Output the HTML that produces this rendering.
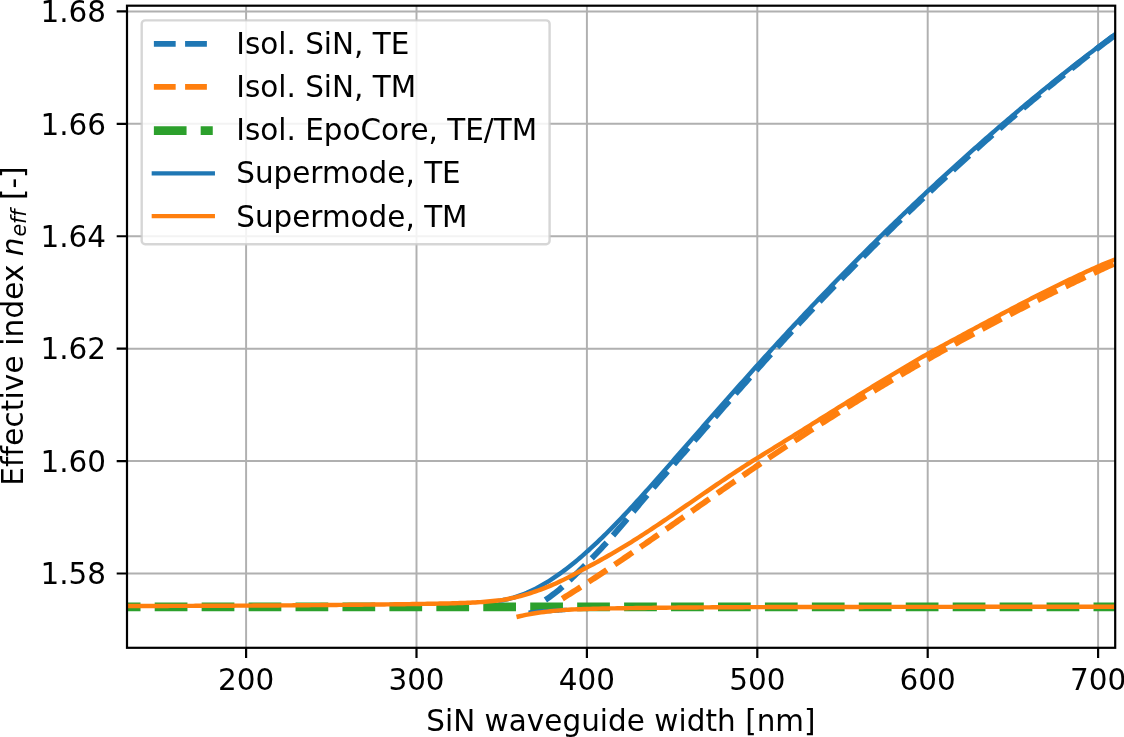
<!DOCTYPE html><html><head><meta charset="utf-8"><title>Effective index vs SiN waveguide width</title>
<style>html,body{margin:0;padding:0;background:#fff}body{width:1124px;height:737px;overflow:hidden}svg{display:block}text{font-variant-ligatures:none;font-kerning:normal;font-family:"DejaVu Sans","Liberation Sans",sans-serif;fill:#000}</style></head><body>
<svg width="1124" height="737" viewBox="0 0 1124 737">
<rect width="1124" height="737" fill="#fff"/>
<defs><clipPath id="ax"><rect x="127.00" y="5.70" width="988.20" height="642.10"/></clipPath></defs>
<path d="M246.10 5.70 V647.80 M416.50 5.70 V647.80 M586.90 5.70 V647.80 M757.30 5.70 V647.80 M927.70 5.70 V647.80 M1098.10 5.70 V647.80 M127.00 573.50 H1115.20 M127.00 461.08 H1115.20 M127.00 348.66 H1115.20 M127.00 236.24 H1115.20 M127.00 123.82 H1115.20 M127.00 11.40 H1115.20" stroke="#b0b0b0" stroke-width="1.95" fill="none"/>
<g clip-path="url(#ax)" fill="none" stroke-linejoin="round">
<path d="M545.40 600.00 L547.33 598.68 L549.25 597.32 L551.18 595.92 L553.10 594.48 L555.03 593.00 L556.95 591.49 L558.88 589.93 L560.80 588.33 L562.73 586.67 L564.65 584.97 L566.58 583.21 L568.50 581.42 L570.43 579.59 L572.35 577.73 L574.28 575.85 L576.20 573.96 L578.13 572.05 L580.05 570.13 L581.98 568.22 L583.90 566.31 L585.83 564.38 L587.75 562.44 L589.68 560.49 L591.60 558.51 L593.53 556.53 L595.45 554.52 L597.38 552.50 L599.30 550.46 L601.23 548.41 L603.15 546.34 L605.08 544.25 L607.00 542.13 L608.93 540.00 L610.85 537.85 L612.78 535.67 L614.70 533.48 L616.63 531.27 L618.55 529.05 L620.48 526.81 L622.40 524.56 L624.33 522.30 L626.25 520.02 L628.18 517.74 L630.10 515.46 L632.03 513.16 L633.95 510.87 L635.88 508.57 L637.80 506.26 L639.73 503.96 L641.65 501.66 L643.58 499.37 L645.50 497.07 L647.43 494.79 L649.35 492.51 L651.28 490.24 L653.20 487.98 L655.13 485.73 L657.05 483.49 L658.98 481.27 L660.90 479.06 L662.83 476.86 L664.75 474.68 L666.68 472.50 L668.60 470.32 L670.53 468.13 L672.45 465.94 L674.38 463.74 L676.30 461.54 L678.23 459.33 L680.15 457.12 L682.08 454.91 L684.00 452.70 L685.93 450.49 L687.85 448.28 L689.78 446.07 L691.70 443.86 L693.63 441.65 L695.55 439.44 L697.48 437.24 L699.40 435.03 L701.33 432.82 L703.25 430.62 L705.18 428.41 L707.10 426.20 L709.03 424.00 L710.95 421.80 L712.88 419.60 L714.80 417.40 L716.73 415.20 L718.65 413.00 L720.58 410.80 L722.50 408.61 L724.43 406.42 L726.35 404.23 L728.28 402.04 L730.20 399.85 L732.13 397.66 L734.05 395.48 L735.98 393.30 L737.90 391.12 L739.83 388.94 L741.75 386.77 L743.68 384.60 L745.60 382.43 L747.53 380.26 L749.45 378.10 L751.38 375.94 L753.30 373.78 L755.23 371.62 L757.15 369.47 L759.08 367.32 L761.00 365.18 L762.93 363.04 L764.85 360.90 L766.78 358.76 L768.70 356.63 L770.63 354.50 L772.55 352.38 L774.48 350.26 L776.40 348.14 L778.33 346.03 L780.25 343.92 L782.18 341.82 L784.10 339.72 L786.03 337.62 L787.95 335.53 L789.88 333.44 L791.80 331.35 L793.73 329.27 L795.65 327.19 L797.58 325.12 L799.50 323.05 L801.43 320.98 L803.35 318.92 L805.28 316.87 L807.20 314.81 L809.13 312.76 L811.05 310.72 L812.98 308.67 L814.90 306.63 L816.83 304.60 L818.75 302.57 L820.68 300.54 L822.60 298.52 L824.53 296.50 L826.45 294.49 L828.38 292.48 L830.30 290.47 L832.23 288.47 L834.15 286.47 L836.08 284.47 L838.00 282.48 L839.93 280.49 L841.85 278.51 L843.78 276.53 L845.70 274.55 L847.63 272.58 L849.55 270.61 L851.48 268.64 L853.40 266.68 L855.33 264.73 L857.25 262.77 L859.18 260.82 L861.10 258.88 L863.03 256.94 L864.95 255.00 L866.88 253.07 L868.80 251.14 L870.73 249.21 L872.65 247.29 L874.58 245.37 L876.50 243.46 L878.43 241.54 L880.35 239.64 L882.28 237.73 L884.20 235.84 L886.13 233.94 L888.05 232.05 L889.98 230.16 L891.90 228.28 L893.83 226.40 L895.75 224.52 L897.68 222.65 L899.60 220.78 L901.53 218.92 L903.45 217.05 L905.38 215.20 L907.30 213.34 L909.23 211.49 L911.15 209.65 L913.08 207.81 L915.00 205.97 L916.93 204.14 L918.85 202.31 L920.78 200.48 L922.70 198.66 L924.63 196.83 L926.55 195.02 L928.48 193.20 L930.40 191.39 L932.33 189.58 L934.25 187.77 L936.18 185.97 L938.10 184.17 L940.03 182.38 L941.95 180.58 L943.88 178.79 L945.80 177.01 L947.73 175.23 L949.65 173.45 L951.58 171.68 L953.50 169.91 L955.43 168.14 L957.35 166.38 L959.28 164.62 L961.20 162.87 L963.13 161.12 L965.05 159.37 L966.98 157.63 L968.90 155.89 L970.83 154.15 L972.75 152.42 L974.68 150.69 L976.60 148.97 L978.53 147.25 L980.45 145.53 L982.38 143.82 L984.30 142.11 L986.23 140.40 L988.15 138.70 L990.08 137.00 L992.00 135.31 L993.93 133.62 L995.85 131.93 L997.78 130.25 L999.70 128.57 L1001.63 126.90 L1003.55 125.22 L1005.48 123.56 L1007.40 121.89 L1009.33 120.23 L1011.25 118.58 L1013.18 116.92 L1015.10 115.28 L1017.03 113.63 L1018.95 111.99 L1020.88 110.35 L1022.80 108.72 L1024.73 107.09 L1026.65 105.46 L1028.58 103.84 L1030.50 102.23 L1032.43 100.61 L1034.35 99.00 L1036.28 97.40 L1038.20 95.79 L1040.13 94.20 L1042.05 92.60 L1043.98 91.01 L1045.90 89.42 L1047.83 87.84 L1049.75 86.26 L1051.68 84.69 L1053.60 83.12 L1055.53 81.55 L1057.45 79.99 L1059.38 78.43 L1061.30 76.88 L1063.23 75.33 L1065.15 73.78 L1067.08 72.24 L1069.00 70.70 L1070.93 69.17 L1072.85 67.64 L1074.78 66.11 L1076.70 64.59 L1078.63 63.07 L1080.55 61.56 L1082.48 60.05 L1084.40 58.54 L1086.33 57.04 L1088.25 55.54 L1090.18 54.05 L1092.10 52.56 L1094.03 51.08 L1095.95 49.60 L1097.88 48.12 L1099.80 46.65 L1101.73 45.18 L1103.65 43.72 L1105.58 42.26 L1107.50 40.80 L1109.43 39.35 L1111.35 37.90 L1113.28 36.46 L1115.20 35.02 L1117.13 33.59 L1119.05 32.16 L1120.98 30.74" stroke="#1f77b4" stroke-width="5.89" stroke-dasharray="21.79 9.42"/>
<path d="M562.30 598.65 L564.18 597.48 L566.06 596.31 L567.95 595.12 L569.83 593.94 L571.71 592.75 L573.59 591.56 L575.47 590.36 L577.36 589.16 L579.24 587.95 L581.12 586.74 L583.00 585.53 L584.88 584.32 L586.77 583.10 L588.65 581.87 L590.53 580.64 L592.41 579.41 L594.29 578.18 L596.17 576.94 L598.06 575.70 L599.94 574.46 L601.82 573.21 L603.70 571.96 L605.58 570.71 L607.47 569.45 L609.35 568.19 L611.23 566.93 L613.11 565.67 L614.99 564.40 L616.88 563.13 L618.76 561.86 L620.64 560.59 L622.52 559.31 L624.40 558.03 L626.29 556.75 L628.17 555.46 L630.05 554.18 L631.93 552.89 L633.81 551.60 L635.70 550.31 L637.58 549.01 L639.46 547.72 L641.34 546.42 L643.22 545.12 L645.11 543.82 L646.99 542.52 L648.87 541.22 L650.75 539.91 L652.63 538.60 L654.52 537.30 L656.40 535.99 L658.28 534.68 L660.16 533.37 L662.04 532.05 L663.92 530.74 L665.81 529.43 L667.69 528.11 L669.57 526.80 L671.45 525.48 L673.33 524.16 L675.22 522.84 L677.10 521.53 L678.98 520.21 L680.86 518.89 L682.74 517.57 L684.63 516.25 L686.51 514.93 L688.39 513.61 L690.27 512.29 L692.15 510.97 L694.04 509.65 L695.92 508.33 L697.80 507.01 L699.68 505.69 L701.56 504.37 L703.45 503.05 L705.33 501.73 L707.21 500.41 L709.09 499.10 L710.97 497.78 L712.86 496.46 L714.74 495.15 L716.62 493.83 L718.50 492.52 L720.38 491.21 L722.26 489.90 L724.15 488.59 L726.03 487.28 L727.91 485.97 L729.79 484.66 L731.67 483.36 L733.56 482.05 L735.44 480.75 L737.32 479.45 L739.20 478.15 L741.08 476.86 L742.97 475.56 L744.85 474.27 L746.73 472.97 L748.61 471.68 L750.49 470.40 L752.38 469.11 L754.26 467.83 L756.14 466.54 L758.02 465.26 L759.90 463.99 L761.79 462.71 L763.67 461.44 L765.55 460.17 L767.43 458.90 L769.31 457.64 L771.20 456.37 L773.08 455.11 L774.96 453.86 L776.84 452.60 L778.72 451.34 L780.61 450.09 L782.49 448.84 L784.37 447.60 L786.25 446.35 L788.13 445.11 L790.01 443.87 L791.90 442.63 L793.78 441.40 L795.66 440.16 L797.54 438.93 L799.42 437.70 L801.31 436.48 L803.19 435.25 L805.07 434.03 L806.95 432.81 L808.83 431.59 L810.72 430.38 L812.60 429.17 L814.48 427.96 L816.36 426.75 L818.24 425.54 L820.13 424.34 L822.01 423.14 L823.89 421.94 L825.77 420.74 L827.65 419.55 L829.54 418.36 L831.42 417.17 L833.30 415.98 L835.18 414.79 L837.06 413.61 L838.95 412.43 L840.83 411.25 L842.71 410.07 L844.59 408.90 L846.47 407.73 L848.35 406.56 L850.24 405.39 L852.12 404.23 L854.00 403.07 L855.88 401.90 L857.76 400.75 L859.65 399.59 L861.53 398.44 L863.41 397.29 L865.29 396.14 L867.17 394.99 L869.06 393.85 L870.94 392.70 L872.82 391.56 L874.70 390.42 L876.58 389.29 L878.47 388.16 L880.35 387.02 L882.23 385.90 L884.11 384.77 L885.99 383.65 L887.88 382.52 L889.76 381.40 L891.64 380.29 L893.52 379.17 L895.40 378.06 L897.29 376.95 L899.17 375.84 L901.05 374.73 L902.93 373.63 L904.81 372.52 L906.69 371.42 L908.58 370.33 L910.46 369.23 L912.34 368.14 L914.22 367.05 L916.10 365.96 L917.99 364.87 L919.87 363.79 L921.75 362.71 L923.63 361.63 L925.51 360.55 L927.40 359.47 L929.28 358.40 L931.16 357.33 L933.04 356.26 L934.92 355.20 L936.81 354.13 L938.69 353.07 L940.57 352.01 L942.45 350.95 L944.33 349.90 L946.22 348.84 L948.10 347.79 L949.98 346.74 L951.86 345.70 L953.74 344.65 L955.63 343.61 L957.51 342.57 L959.39 341.53 L961.27 340.50 L963.15 339.46 L965.04 338.43 L966.92 337.41 L968.80 336.38 L970.68 335.35 L972.56 334.33 L974.44 333.31 L976.33 332.29 L978.21 331.28 L980.09 330.26 L981.97 329.25 L983.85 328.24 L985.74 327.24 L987.62 326.23 L989.50 325.23 L991.38 324.23 L993.26 323.23 L995.15 322.23 L997.03 321.24 L998.91 320.25 L1000.79 319.26 L1002.67 318.27 L1004.56 317.29 L1006.44 316.30 L1008.32 315.32 L1010.20 314.34 L1012.08 313.37 L1013.97 312.39 L1015.85 311.42 L1017.73 310.45 L1019.61 309.48 L1021.49 308.52 L1023.38 307.55 L1025.26 306.59 L1027.14 305.63 L1029.02 304.68 L1030.90 303.72 L1032.78 302.77 L1034.67 301.82 L1036.55 300.87 L1038.43 299.93 L1040.31 298.98 L1042.19 298.04 L1044.08 297.10 L1045.96 296.16 L1047.84 295.23 L1049.72 294.29 L1051.60 293.36 L1053.49 292.43 L1055.37 291.51 L1057.25 290.58 L1059.13 289.66 L1061.01 288.74 L1062.90 287.82 L1064.78 286.90 L1066.66 285.99 L1068.54 285.08 L1070.42 284.17 L1072.31 283.26 L1074.19 282.36 L1076.07 281.45 L1077.95 280.55 L1079.83 279.65 L1081.72 278.76 L1083.60 277.86 L1085.48 276.97 L1087.36 276.08 L1089.24 275.19 L1091.13 274.30 L1093.01 273.42 L1094.89 272.54 L1096.77 271.66 L1098.65 270.78 L1100.53 269.91 L1102.42 269.03 L1104.30 268.16 L1106.18 267.29 L1108.06 266.42 L1109.94 265.56 L1111.83 264.70 L1113.71 263.84 L1115.59 262.98 L1117.47 262.12 L1119.35 261.27 L1121.24 260.41 L1123.12 259.56 L1125.00 258.72" stroke="#ff7f0e" stroke-width="5.89" stroke-dasharray="21.79 9.42"/>
<path d="M107.76 606.85 H1130.00" stroke="#2ca02c" stroke-width="8.83" stroke-dasharray="32.75 14.19" stroke-dashoffset="0.00"/>
<path d="M498.11 600.93 L500.32 600.59 L502.53 600.21 L504.73 599.78 L506.94 599.31 L509.15 598.79 L511.35 598.22 L513.56 597.60 L515.77 596.92 L517.98 596.20 L520.18 595.42 L522.39 594.59 L524.60 593.71 L526.81 592.79 L529.01 591.81 L531.22 590.79 L533.43 589.72 L535.64 588.61 L537.84 587.45 L540.05 586.24 L542.26 585.00 L544.46 583.71 L546.67 582.38 L548.88 581.01 L551.09 579.61 L553.29 578.16 L555.50 576.67 L557.71 575.15 L559.92 573.59 L562.12 571.99 L564.33 570.36 L566.54 568.69 L568.75 566.99 L570.95 565.25 L573.16 563.48 L575.37 561.68 L577.58 559.85 L579.78 557.99 L581.99 556.10 L584.20 554.17 L586.40 552.22 L588.61 550.25 L590.82 548.24 L593.03 546.21 L595.23 544.15 L597.44 542.07 L599.65 539.96 L601.86 537.83 L604.06 535.68 L606.27 533.50 L608.48 531.30 L610.69 529.09 L612.89 526.85 L615.10 524.59 L617.31 522.31 L619.52 520.02 L621.72 517.71 L623.93 515.38 L626.14 513.03 L628.34 510.67 L630.55 508.30 L632.76 505.91 L634.97 503.51 L637.17 501.09 L639.38 498.67 L641.59 496.23 L643.80 493.78 L646.00 491.33 L648.21 488.86 L650.42 486.39 L652.63 483.90 L654.83 481.41 L657.04 478.92 L659.25 476.42 L661.45 473.91 L663.66 471.40 L665.87 468.89 L668.08 466.38 L670.28 463.86 L672.49 461.34 L674.70 458.82 L676.91 456.30 L679.11 453.78 L681.32 451.26 L683.53 448.74 L685.74 446.22 L687.94 443.70 L690.15 441.18 L692.36 438.66 L694.57 436.14 L696.77 433.62 L698.98 431.11 L701.19 428.59 L703.39 426.07 L705.60 423.56 L707.81 421.05 L710.02 418.54 L712.22 416.03 L714.43 413.52 L716.64 411.01 L718.85 408.51 L721.05 406.00 L723.26 403.50 L725.47 401.00 L727.68 398.51 L729.88 396.01 L732.09 393.52 L734.30 391.04 L736.51 388.55 L738.71 386.07 L740.92 383.59 L743.13 381.12 L745.33 378.64 L747.54 376.18 L749.75 373.71 L751.96 371.25 L754.16 368.79 L756.37 366.34 L758.58 363.89 L760.79 361.45 L762.99 359.01 L765.20 356.58 L767.41 354.14 L769.62 351.72 L771.82 349.30 L774.03 346.88 L776.24 344.47 L778.44 342.07 L780.65 339.67 L782.86 337.27 L785.07 334.88 L787.27 332.50 L789.48 330.12 L791.69 327.75 L793.90 325.38 L796.10 323.01 L798.31 320.65 L800.52 318.30 L802.73 315.95 L804.93 313.61 L807.14 311.27 L809.35 308.93 L811.56 306.60 L813.76 304.28 L815.97 301.96 L818.18 299.65 L820.38 297.34 L822.59 295.04 L824.80 292.74 L827.01 290.45 L829.21 288.16 L831.42 285.88 L833.63 283.60 L835.84 281.33 L838.04 279.06 L840.25 276.79 L842.46 274.54 L844.67 272.28 L846.87 270.04 L849.08 267.79 L851.29 265.56 L853.49 263.32 L855.70 261.10 L857.91 258.88 L860.12 256.66 L862.32 254.45 L864.53 252.24 L866.74 250.04 L868.95 247.84 L871.15 245.65 L873.36 243.46 L875.57 241.28 L877.78 239.10 L879.98 236.93 L882.19 234.76 L884.40 232.60 L886.61 230.44 L888.81 228.29 L891.02 226.14 L893.23 224.00 L895.43 221.86 L897.64 219.73 L899.85 217.61 L902.06 215.48 L904.26 213.37 L906.47 211.26 L908.68 209.15 L910.89 207.05 L913.09 204.95 L915.30 202.86 L917.51 200.77 L919.72 198.69 L921.92 196.61 L924.13 194.54 L926.34 192.47 L928.55 190.41 L930.75 188.35 L932.96 186.30 L935.17 184.25 L937.37 182.21 L939.58 180.17 L941.79 178.14 L944.00 176.11 L946.20 174.09 L948.41 172.07 L950.62 170.06 L952.83 168.05 L955.03 166.05 L957.24 164.05 L959.45 162.06 L961.66 160.07 L963.86 158.09 L966.07 156.11 L968.28 154.14 L970.48 152.17 L972.69 150.21 L974.90 148.25 L977.11 146.30 L979.31 144.35 L981.52 142.40 L983.73 140.47 L985.94 138.53 L988.14 136.60 L990.35 134.68 L992.56 132.76 L994.77 130.85 L996.97 128.94 L999.18 127.03 L1001.39 125.13 L1003.60 123.24 L1005.80 121.35 L1008.01 119.47 L1010.22 117.59 L1012.42 115.71 L1014.63 113.84 L1016.84 111.98 L1019.05 110.12 L1021.25 108.26 L1023.46 106.41 L1025.67 104.57 L1027.88 102.73 L1030.08 100.90 L1032.29 99.07 L1034.50 97.24 L1036.71 95.42 L1038.91 93.61 L1041.12 91.80 L1043.33 90.00 L1045.54 88.20 L1047.74 86.40 L1049.95 84.62 L1052.16 82.83 L1054.36 81.05 L1056.57 79.28 L1058.78 77.51 L1060.99 75.75 L1063.19 73.99 L1065.40 72.24 L1067.61 70.50 L1069.82 68.75 L1072.02 67.02 L1074.23 65.29 L1076.44 63.56 L1078.65 61.84 L1080.85 60.13 L1083.06 58.42 L1085.27 56.72 L1087.47 55.02 L1089.68 53.33 L1091.89 51.64 L1094.10 49.96 L1096.30 48.28 L1098.51 46.61 L1100.72 44.94 L1102.93 43.28 L1105.13 41.63 L1107.34 39.98 L1109.55 38.34 L1111.76 36.70 L1113.96 35.06 L1116.17 33.44 L1118.38 31.82 L1120.59 30.20 L1122.79 28.59 L1125.00 26.99" stroke="#1f77b4" stroke-width="4.42"/>
<path d="M528.50 612.70 L528.69 612.68 L528.88 612.65 L529.08 612.63 L529.27 612.60 L529.46 612.58 L529.65 612.55 L529.84 612.53 L530.04 612.51 L530.23 612.48 L530.42 612.46 L530.61 612.43 L530.80 612.41 L531.00 612.39 L531.19 612.37 L531.38 612.34 L531.57 612.32 L531.76 612.30 L531.96 612.27 L532.15 612.25 L532.34 612.23 L532.53 612.21 L532.72 612.19 L532.92 612.16 L533.11 612.14 L533.30 612.12 L533.49 612.10 L533.68 612.08 L533.87 612.06 L534.07 612.04 L534.26 612.02 L534.45 611.99 L534.64 611.97 L534.83 611.95 L535.03 611.93 L535.22 611.92 L535.41 611.90 L535.60 611.88 L535.79 611.86 L535.99 611.84 L536.18 611.82 L536.37 611.80 L536.56 611.78 L536.75 611.77 L536.95 611.75 L537.14 611.73 L537.33 611.71 L537.52 611.70 L537.71 611.68 L537.91 611.66 L538.10 611.65 L538.29 611.63 L538.48 611.62 L538.67 611.60 L538.87 611.58 L539.06 611.57 L539.25 611.55 L539.44 611.54 L539.63 611.53 L539.83 611.51 L540.02 611.50 L540.21 611.49 L540.40 611.47 L540.59 611.46 L540.79 611.45 L540.98 611.43 L541.17 611.42 L541.36 611.41 L541.55 611.40 L541.75 611.39 L541.94 611.38 L542.13 611.36 L542.32 611.35 L542.51 611.34 L542.71 611.33 L542.90 611.32 L543.09 611.31 L543.28 611.30 L543.47 611.29 L543.66 611.28 L543.86 611.27 L544.05 611.26 L544.24 611.25 L544.43 611.24 L544.62 611.23 L544.82 611.22 L545.01 611.21 L545.20 611.20 L545.39 611.20 L545.58 611.19 L545.78 611.18 L545.97 611.17 L546.16 611.16 L546.35 611.15 L546.54 611.14 L546.74 611.13 L546.93 611.13 L547.12 611.12 L547.31 611.11 L547.50 611.10 L547.70 611.09 L547.89 611.08 L548.08 611.07 L548.27 611.06 L548.46 611.06 L548.66 611.05 L548.85 611.04 L549.04 611.03 L549.23 611.02 L549.42 611.01 L549.62 611.00 L549.81 610.99 L550.00 610.98 L550.19 610.97 L550.38 610.97 L550.58 610.96 L550.77 610.95 L550.96 610.94 L551.15 610.93 L551.34 610.92 L551.54 610.91 L551.73 610.90 L551.92 610.89 L552.11 610.88 L552.30 610.86 L552.49 610.85 L552.69 610.84 L552.88 610.83 L553.07 610.82 L553.26 610.81 L553.45 610.80 L553.65 610.78 L553.84 610.77 L554.03 610.76 L554.22 610.75 L554.41 610.74 L554.61 610.72 L554.80 610.71 L554.99 610.70 L555.18 610.69 L555.37 610.67 L555.57 610.66 L555.76 610.65 L555.95 610.64 L556.14 610.62 L556.33 610.61 L556.53 610.60 L556.72 610.58 L556.91 610.57 L557.10 610.56 L557.29 610.54 L557.49 610.53 L557.68 610.52 L557.87 610.50 L558.06 610.49 L558.25 610.47 L558.45 610.46 L558.64 610.45 L558.83 610.43 L559.02 610.42 L559.21 610.40 L559.41 610.39 L559.60 610.38 L559.79 610.36 L559.98 610.35 L560.17 610.33 L560.37 610.32 L560.56 610.30 L560.75 610.29 L560.94 610.27 L561.13 610.26 L561.33 610.24 L561.52 610.23 L561.71 610.21 L561.90 610.20 L562.09 610.18 L562.28 610.17 L562.48 610.15 L562.67 610.14 L562.86 610.12 L563.05 610.11 L563.24 610.09 L563.44 610.07 L563.63 610.06 L563.82 610.04 L564.01 610.03 L564.20 610.01 L564.40 610.00 L564.59 609.98 L564.78 609.96 L564.97 609.95 L565.16 609.93 L565.36 609.92 L565.55 609.90 L565.74 609.88 L565.93 609.87 L566.12 609.85 L566.32 609.83 L566.51 609.82 L566.70 609.80" stroke="#1f77b4" stroke-width="4.42"/>
<path d="M120.00 606.00 L122.52 606.00 L125.04 606.00 L127.56 606.00 L130.08 605.99 L132.59 605.99 L135.11 605.99 L137.63 605.99 L140.15 605.98 L142.67 605.98 L145.19 605.97 L147.71 605.97 L150.23 605.96 L152.74 605.96 L155.26 605.95 L157.78 605.95 L160.30 605.94 L162.82 605.94 L165.34 605.93 L167.86 605.92 L170.38 605.91 L172.89 605.91 L175.41 605.90 L177.93 605.89 L180.45 605.88 L182.97 605.88 L185.49 605.87 L188.01 605.86 L190.53 605.85 L193.05 605.84 L195.56 605.83 L198.08 605.82 L200.60 605.81 L203.12 605.80 L205.64 605.79 L208.16 605.78 L210.68 605.77 L213.20 605.76 L215.71 605.75 L218.23 605.74 L220.75 605.73 L223.27 605.72 L225.79 605.71 L228.31 605.70 L230.83 605.69 L233.35 605.67 L235.86 605.66 L238.38 605.65 L240.90 605.64 L243.42 605.63 L245.94 605.62 L248.46 605.61 L250.98 605.60 L253.50 605.58 L256.02 605.57 L258.53 605.56 L261.05 605.54 L263.57 605.53 L266.09 605.51 L268.61 605.50 L271.13 605.48 L273.65 605.47 L276.17 605.45 L278.68 605.43 L281.20 605.41 L283.72 605.39 L286.24 605.37 L288.76 605.36 L291.28 605.34 L293.80 605.32 L296.32 605.29 L298.83 605.27 L301.35 605.25 L303.87 605.23 L306.39 605.21 L308.91 605.19 L311.43 605.16 L313.95 605.14 L316.47 605.12 L318.98 605.10 L321.50 605.07 L324.02 605.05 L326.54 605.03 L329.06 605.00 L331.58 604.98 L334.10 604.96 L336.62 604.93 L339.14 604.91 L341.65 604.88 L344.17 604.86 L346.69 604.84 L349.21 604.81 L351.73 604.79 L354.25 604.76 L356.77 604.74 L359.29 604.71 L361.80 604.69 L364.32 604.66 L366.84 604.63 L369.36 604.61 L371.88 604.58 L374.40 604.55 L376.92 604.52 L379.44 604.49 L381.95 604.47 L384.47 604.44 L386.99 604.40 L389.51 604.37 L392.03 604.34 L394.55 604.31 L397.07 604.28 L399.59 604.24 L402.11 604.21 L404.62 604.17 L407.14 604.13 L409.66 604.10 L412.18 604.06 L414.70 604.02 L417.22 603.98 L419.74 603.94 L422.26 603.90 L424.77 603.86 L427.29 603.82 L429.81 603.77 L432.33 603.73 L434.85 603.68 L437.37 603.63 L439.89 603.58 L442.41 603.53 L444.92 603.47 L447.44 603.42 L449.96 603.35 L452.48 603.29 L455.00 603.22 L457.52 603.14 L460.04 603.07 L462.56 602.98 L465.08 602.90 L467.59 602.80 L470.11 602.69 L472.63 602.57 L475.15 602.43 L477.67 602.27 L480.19 602.11 L482.71 601.93 L485.23 601.73 L487.74 601.52 L490.26 601.30 L492.78 601.06 L495.30 600.81 L497.82 600.54 L500.34 600.26 L502.86 599.91 L505.38 599.47 L507.89 598.97 L510.41 598.43 L512.93 597.88 L515.45 597.31 L517.97 596.70 L520.49 596.05 L523.01 595.36 L525.53 594.64 L528.05 593.90 L530.56 593.10 L533.08 592.26 L535.60 591.38 L538.12 590.48 L540.64 589.57 L543.16 588.63 L545.68 587.66 L548.20 586.67 L550.71 585.64 L553.23 584.57 L555.75 583.46 L558.27 582.31 L560.79 581.11 L563.31 579.88 L565.83 578.64 L568.35 577.37 L570.86 576.05 L573.38 574.71 L575.90 573.35 L578.42 572.00 L580.94 570.66 L583.46 569.32 L585.98 567.99 L588.50 566.64 L591.02 565.29 L593.53 563.94 L596.05 562.57 L598.57 561.19 L601.09 559.79 L603.61 558.37 L606.13 556.95 L608.65 555.50 L611.17 554.05 L613.68 552.59 L616.20 551.11 L618.72 549.63 L621.24 548.13 L623.76 546.63 L626.28 545.10 L628.80 543.57 L631.32 542.01 L633.83 540.44 L636.35 538.86 L638.87 537.25 L641.39 535.64 L643.91 534.01 L646.43 532.38 L648.95 530.73 L651.47 529.07 L653.98 527.41 L656.50 525.73 L659.02 524.05 L661.54 522.36 L664.06 520.67 L666.58 518.97 L669.10 517.26 L671.62 515.55 L674.14 513.83 L676.65 512.11 L679.17 510.38 L681.69 508.65 L684.21 506.92 L686.73 505.19 L689.25 503.45 L691.77 501.72 L694.29 499.98 L696.80 498.25 L699.32 496.51 L701.84 494.78 L704.36 493.05 L706.88 491.32 L709.40 489.59 L711.92 487.87 L714.44 486.15 L716.95 484.43 L719.47 482.72 L721.99 481.02 L724.51 479.32 L727.03 477.62 L729.55 475.94 L732.07 474.26 L734.59 472.59 L737.11 470.93 L739.62 469.28 L742.14 467.64 L744.66 466.01 L747.18 464.38 L749.70 462.78 L752.22 461.18 L754.74 459.62 L757.26 458.09 L759.77 456.55 L762.29 455.00 L764.81 453.45 L767.33 451.90 L769.85 450.35 L772.37 448.79 L774.89 447.24 L777.41 445.68 L779.92 444.11 L782.44 442.55 L784.96 440.99 L787.48 439.42 L790.00 437.85 L792.52 436.29 L795.04 434.72 L797.56 433.15 L800.08 431.57 L802.59 430.00 L805.11 428.43 L807.63 426.86 L810.15 425.28 L812.67 423.71 L815.19 422.14 L817.71 420.56 L820.23 418.99 L822.74 417.42 L825.26 415.84 L827.78 414.27 L830.30 412.70 L832.82 411.13 L835.34 409.56 L837.86 407.99 L840.38 406.43 L842.89 404.86 L845.41 403.30 L847.93 401.73 L850.45 400.17 L852.97 398.62 L855.49 397.06 L858.01 395.50 L860.53 393.95 L863.05 392.40 L865.56 390.85 L868.08 389.31 L870.60 387.77 L873.12 386.23 L875.64 384.69 L878.16 383.16 L880.68 381.63 L883.20 380.10 L885.71 378.58 L888.23 377.06 L890.75 375.55 L893.27 374.04 L895.79 372.53 L898.31 371.03 L900.83 369.53 L903.35 368.03 L905.86 366.54 L908.38 365.06 L910.90 363.58 L913.42 362.10 L915.94 360.63 L918.46 359.17 L920.98 357.71 L923.50 356.26 L926.02 354.81 L928.53 353.37 L931.05 351.95 L933.57 350.56 L936.09 349.19 L938.61 347.84 L941.13 346.48 L943.65 345.12 L946.17 343.77 L948.68 342.41 L951.20 341.06 L953.72 339.70 L956.24 338.34 L958.76 336.98 L961.28 335.63 L963.80 334.27 L966.32 332.91 L968.83 331.56 L971.35 330.21 L973.87 328.85 L976.39 327.50 L978.91 326.15 L981.43 324.80 L983.95 323.45 L986.47 322.10 L988.98 320.76 L991.50 319.42 L994.02 318.08 L996.54 316.74 L999.06 315.40 L1001.58 314.07 L1004.10 312.74 L1006.62 311.41 L1009.14 310.09 L1011.65 308.77 L1014.17 307.45 L1016.69 306.14 L1019.21 304.83 L1021.73 303.52 L1024.25 302.22 L1026.77 300.92 L1029.29 299.63 L1031.80 298.34 L1034.32 297.05 L1036.84 295.77 L1039.36 294.49 L1041.88 293.22 L1044.40 291.96 L1046.92 290.70 L1049.44 289.44 L1051.95 288.19 L1054.47 286.95 L1056.99 285.71 L1059.51 284.48 L1062.03 283.25 L1064.55 282.03 L1067.07 280.82 L1069.59 279.61 L1072.11 278.41 L1074.62 277.22 L1077.14 276.03 L1079.66 274.85 L1082.18 273.68 L1084.70 272.52 L1087.22 271.36 L1089.74 270.21 L1092.26 269.07 L1094.77 267.94 L1097.29 266.81 L1099.81 265.71 L1102.33 264.63 L1104.85 263.59 L1107.37 262.57 L1109.89 261.55 L1112.41 260.54 L1114.92 259.51 L1117.44 258.48 L1119.96 257.45 L1122.48 256.42 L1125.00 255.40" stroke="#ff7f0e" stroke-width="4.42"/>
<path d="M516.50 617.00 L519.56 616.25 L522.62 615.55 L525.67 614.90 L528.73 614.32 L531.79 613.77 L534.85 613.27 L537.90 612.80 L540.96 612.37 L544.02 611.96 L547.08 611.59 L550.14 611.24 L553.19 610.92 L556.25 610.63 L559.31 610.35 L562.37 610.10 L565.42 609.88 L568.48 609.70 L571.54 609.55 L574.60 609.41 L577.66 609.29 L580.71 609.17 L583.77 609.07 L586.83 608.96 L589.89 608.86 L592.94 608.77 L596.00 608.69 L599.06 608.62 L602.12 608.56 L605.18 608.50 L608.23 608.44 L611.29 608.39 L614.35 608.34 L617.41 608.29 L620.46 608.25 L623.52 608.21 L626.58 608.17 L629.64 608.13 L632.70 608.09 L635.75 608.05 L638.81 608.01 L641.87 607.98 L644.93 607.94 L647.98 607.90 L651.04 607.87 L654.10 607.83 L657.16 607.80 L660.22 607.76 L663.27 607.73 L666.33 607.69 L669.39 607.66 L672.45 607.63 L675.51 607.60 L678.56 607.57 L681.62 607.54 L684.68 607.51 L687.74 607.49 L690.79 607.46 L693.85 607.44 L696.91 607.42 L699.97 607.40 L703.03 607.38 L706.08 607.36 L709.14 607.35 L712.20 607.33 L715.26 607.31 L718.31 607.30 L721.37 607.28 L724.43 607.27 L727.49 607.25 L730.55 607.23 L733.60 607.22 L736.66 607.21 L739.72 607.19 L742.78 607.18 L745.83 607.16 L748.89 607.15 L751.95 607.14 L755.01 607.13 L758.07 607.12 L761.12 607.10 L764.18 607.09 L767.24 607.08 L770.30 607.07 L773.35 607.06 L776.41 607.05 L779.47 607.05 L782.53 607.04 L785.59 607.03 L788.64 607.02 L791.70 607.02 L794.76 607.01 L797.82 607.00 L800.87 607.00 L803.93 606.99 L806.99 606.99 L810.05 606.98 L813.11 606.98 L816.16 606.97 L819.22 606.97 L822.28 606.96 L825.34 606.96 L828.39 606.96 L831.45 606.95 L834.51 606.95 L837.57 606.94 L840.63 606.94 L843.68 606.94 L846.74 606.93 L849.80 606.93 L852.86 606.93 L855.91 606.92 L858.97 606.92 L862.03 606.92 L865.09 606.91 L868.15 606.91 L871.20 606.91 L874.26 606.90 L877.32 606.90 L880.38 606.90 L883.43 606.89 L886.49 606.89 L889.55 606.89 L892.61 606.89 L895.67 606.88 L898.72 606.88 L901.78 606.88 L904.84 606.88 L907.90 606.87 L910.95 606.87 L914.01 606.87 L917.07 606.87 L920.13 606.86 L923.19 606.86 L926.24 606.86 L929.30 606.86 L932.36 606.85 L935.42 606.85 L938.47 606.85 L941.53 606.85 L944.59 606.84 L947.65 606.84 L950.71 606.84 L953.76 606.84 L956.82 606.83 L959.88 606.83 L962.94 606.83 L965.99 606.83 L969.05 606.83 L972.11 606.82 L975.17 606.82 L978.23 606.82 L981.28 606.82 L984.34 606.81 L987.40 606.81 L990.46 606.81 L993.52 606.81 L996.57 606.80 L999.63 606.80 L1002.69 606.80 L1005.75 606.79 L1008.80 606.79 L1011.86 606.79 L1014.92 606.79 L1017.98 606.78 L1021.04 606.78 L1024.09 606.78 L1027.15 606.78 L1030.21 606.77 L1033.27 606.77 L1036.32 606.77 L1039.38 606.77 L1042.44 606.76 L1045.50 606.76 L1048.56 606.76 L1051.61 606.76 L1054.67 606.75 L1057.73 606.75 L1060.79 606.75 L1063.84 606.75 L1066.90 606.74 L1069.96 606.74 L1073.02 606.74 L1076.08 606.74 L1079.13 606.73 L1082.19 606.73 L1085.25 606.73 L1088.31 606.73 L1091.36 606.72 L1094.42 606.72 L1097.48 606.72 L1100.54 606.72 L1103.60 606.72 L1106.65 606.71 L1109.71 606.71 L1112.77 606.71 L1115.83 606.71 L1118.88 606.70 L1121.94 606.70 L1125.00 606.70" stroke="#ff7f0e" stroke-width="4.42"/>
</g>
<path d="M246.10 647.80 v10.31 M416.50 647.80 v10.31 M586.90 647.80 v10.31 M757.30 647.80 v10.31 M927.70 647.80 v10.31 M1098.10 647.80 v10.31 M127.00 573.50 h-10.31 M127.00 461.08 h-10.31 M127.00 348.66 h-10.31 M127.00 236.24 h-10.31 M127.00 123.82 h-10.31 M127.00 11.40 h-10.31" stroke="#000" stroke-width="2.20" fill="none"/>
<rect x="127.00" y="5.70" width="988.20" height="642.10" fill="none" stroke="#000" stroke-width="2.20"/>
<text x="246.10" y="690.30" font-size="29.44" text-anchor="middle">200</text>
<text x="416.50" y="690.30" font-size="29.44" text-anchor="middle">300</text>
<text x="586.90" y="690.30" font-size="29.44" text-anchor="middle">400</text>
<text x="757.30" y="690.30" font-size="29.44" text-anchor="middle">500</text>
<text x="927.70" y="690.30" font-size="29.44" text-anchor="middle">600</text>
<text x="1098.10" y="690.30" font-size="29.44" text-anchor="middle">700</text>
<text x="106.00" y="584.20" font-size="29.44" text-anchor="end">1.58</text>
<text x="106.00" y="471.78" font-size="29.44" text-anchor="end">1.60</text>
<text x="106.00" y="359.36" font-size="29.44" text-anchor="end">1.62</text>
<text x="106.00" y="246.94" font-size="29.44" text-anchor="end">1.64</text>
<text x="106.00" y="134.52" font-size="29.44" text-anchor="end">1.66</text>
<text x="106.00" y="22.10" font-size="29.44" text-anchor="end">1.68</text>
<text x="620.90" y="730.90" font-size="29.44" text-anchor="middle" letter-spacing="0.045">SiN waveguide width [nm]</text>
<text transform="translate(23.40 485.70) rotate(-90)" font-size="29.44" font-style="normal" letter-spacing="0.17">Effective index</text>
<text transform="translate(23.40 256.20) rotate(-90)" font-size="29.44" font-style="italic">n</text>
<text transform="translate(26.10 236.60) rotate(-90)" font-size="20.61" font-style="italic">eff</text>
<text transform="translate(23.40 200.00) rotate(-90)" font-size="29.44" font-style="normal">[-]</text>
<rect x="141.70" y="20.40" width="407.90" height="223.90" rx="3.5" ry="3.5" fill="#fff" fill-opacity="0.85" stroke="#ccc" stroke-opacity="0.8" stroke-width="2.40"/>
<path d="M153.88 43.90 H212.76" stroke="#1f77b4" stroke-width="5.89" stroke-dasharray="21.79 9.42" fill="none"/>
<text x="236.21" y="53.80" font-size="29.44">Isol. SiN, TE</text>
<path d="M153.88 86.85 H212.76" stroke="#ff7f0e" stroke-width="5.89" stroke-dasharray="21.79 9.42" fill="none"/>
<text x="236.21" y="96.90" font-size="29.44">Isol. SiN, TM</text>
<path d="M153.88 130.60 H212.76" stroke="#2ca02c" stroke-width="8.83" stroke-dasharray="32.68 14.13" fill="none"/>
<text x="236.21" y="140.20" font-size="29.44">Isol. EpoCore, TE/TM</text>
<path d="M153.88 173.35 H212.76" stroke="#1f77b4" stroke-width="4.42" stroke-linecap="square" fill="none"/>
<text x="236.21" y="183.45" font-size="29.44">Supermode, TE</text>
<path d="M153.88 216.10 H212.76" stroke="#ff7f0e" stroke-width="4.42" stroke-linecap="square" fill="none"/>
<text x="236.21" y="226.70" font-size="29.44">Supermode, TM</text>
</svg></body></html>
